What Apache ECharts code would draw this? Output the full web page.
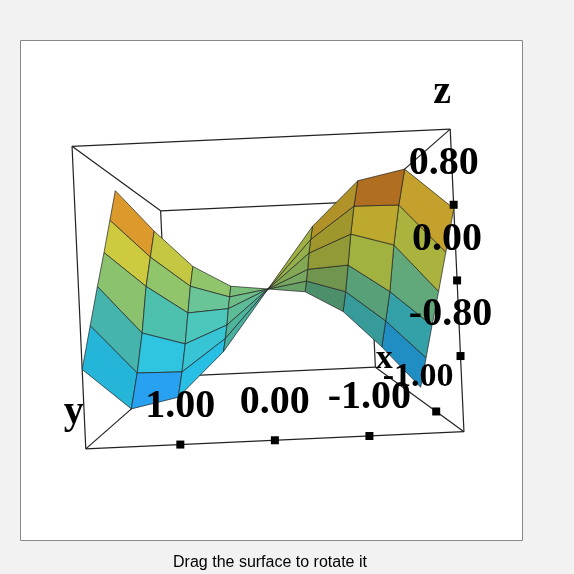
<!DOCTYPE html>
<html>
<head>
<meta charset="utf-8">
<script src="https://cdn.jsdelivr.net/npm/echarts@6/dist/echarts.min.js"></script>
<style>html,body{margin:0;padding:0;background:#f2f2f2;}#main{width:574px;height:574px;}</style>
</head>
<body>
<div id="main"></div>
<script>
// surface grid
var xVals = [-2, -1.5, -1, -0.5, 0, 0.5, 1, 1.5, 2];
var depthVals = [0, 0.27, 0.54, 0.81, 1.08, 1.35];
var zRows = [
  [-0.76, -1.20, -1.10, -0.64, 0, 0.64, 1.10, 1.20, 0.76],
  [-0.32, -0.87, -0.88, -0.53, 0, 0.53, 0.88, 0.87, 0.32],
  [0.12, -0.45, -0.60, -0.40, 0, 0.40, 0.60, 0.45, -0.12],
  [0.54, 0.10, -0.25, -0.22, 0, 0.22, 0.25, -0.10, -0.54],
  [0.98, 0.48, 0.08, -0.08, 0, 0.08, -0.08, -0.48, -0.98],
  [1.42, 0.85, 0.35, 0.06, 0, -0.06, -0.35, -0.85, -1.42]
];
var xTicks = [-1, 0, 1];
var xTickLabels = ['1.00', '0.00', '-1.00'];
var zTicks = [0.8, 0, -0.8];
var zTickLabels = ['0.80', '0.00', '-0.80'];

// camera
var D0 = 4.85, F = 459, CX = 268, CY = 289, ROLL = 2.6 * Math.PI / 180;
function proj(X, ds, Z) {
  var D = D0 + ds;
  var dx = F * X / D, dy = -F * Z / D;
  var c = Math.cos(ROLL), s = Math.sin(ROLL);
  return [CX + dx * c + dy * s, CY - dx * s + dy * c];
}

// colour map keyed on z
var colorStops = [
  [-1.42, [40, 90, 250]], [-0.8, [40, 200, 240]], [-0.2, [90, 200, 170]],
  [0.3, [200, 220, 80]], [0.7, [245, 220, 60]], [1.1, [245, 135, 40]], [1.42, [150, 30, 20]]
];
function colorAt(z, k) {
  z = Math.max(-1.42, Math.min(1.42, z));
  for (var i = 1; i < colorStops.length; i++) {
    if (z <= colorStops[i][0]) {
      var a = colorStops[i - 1], b = colorStops[i];
      var u = (z - a[0]) / (b[0] - a[0]);
      var rgb = a[1].map(function (v, j) { return Math.round((v + (b[1][j] - v) * u) * k); });
      return 'rgb(' + rgb.join(',') + ')';
    }
  }
}

// facets
var facets = [];
for (var j = 0; j < depthVals.length - 1; j++) {
  for (var i = 0; i < xVals.length - 1; i++) {
    var p = [[i, j], [i + 1, j], [i + 1, j + 1], [i, j + 1]].map(function (q) {
      return [xVals[q[0]], depthVals[q[1]], zRows[q[1]][q[0]]];
    });
    var zAvg = (p[0][2] + p[1][2] + p[2][2] + p[3][2]) / 4;
    var a = [p[2][0] - p[0][0], p[2][1] - p[0][1], p[2][2] - p[0][2]];
    var b = [p[3][0] - p[1][0], p[3][1] - p[1][1], p[3][2] - p[1][2]];
    var n = [a[1] * b[2] - a[2] * b[1], a[2] * b[0] - a[0] * b[2], a[0] * b[1] - a[1] * b[0]];
    var nl = Math.hypot(n[0], n[1], n[2]);
    var L = [-0.3, -1, 0.7], ll = Math.hypot(L[0], L[1], L[2]);
    var dot = Math.abs((n[0] * L[0] + n[1] * L[1] + n[2] * L[2]) / nl / ll);
    var dist = p.reduce(function (s, q) { return s + Math.hypot(q[0], D0 + q[1], q[2]); }, 0);
    facets.push({ pts: p, fill: colorAt(zAvg, 0.66 + 0.34 * dot), dist: dist });
  }
}
facets.sort(function (u, v) { return v.dist - u.dist; });

// box edges
var bx = [-2, 2], bd = [0, 4], bz = [-1.6, 1.6];
var edges = [];
[0, 1].forEach(function (a) { [0, 1].forEach(function (b) {
  edges.push([[bx[0], bd[a], bz[b]], [bx[1], bd[a], bz[b]]]);
  edges.push([[bx[a], bd[0], bz[b]], [bx[a], bd[1], bz[b]]]);
  edges.push([[bx[a], bd[b], bz[0]], [bx[a], bd[b], bz[1]]]);
}); });

var ticks = [];
xTicks.forEach(function (x) { ticks.push([x, 0, -1.6]); });
zTicks.forEach(function (z) { ticks.push([2, 0, z]); });
ticks.push([2, 0.8, -1.6]);

var labelFont = 'bold 40px "Liberation Serif", "DejaVu Serif", serif';
var graphics = [
  { type: 'rect', z: -10, shape: { x: 20.5, y: 40.5, width: 502, height: 500 }, style: { fill: '#fff', stroke: '#888', lineWidth: 1 } },
  { type: 'text', x: 270, y: 563, style: { text: 'Drag the surface to rotate it', font: '16px "Liberation Sans", Arial, sans-serif', fill: '#000', align: 'center', verticalAlign: 'middle' } }
];
function addLabel(txt, pt, ox, oy, font) {
  var q = proj(pt[0], pt[1], pt[2]);
  graphics.push({ type: 'text', z: 100, x: q[0] + ox, y: q[1] + oy,
    style: { text: txt, font: font || labelFont, fill: '#000', align: 'center', verticalAlign: 'middle' } });
}
xTicks.forEach(function (x, k) { addLabel(xTickLabels[k], [x, 0, -1.6], 0, -38); });
zTicks.forEach(function (z, k) { addLabel(zTickLabels[k], [2, 0, z], -10, -41); });
addLabel('z', [2, 0, 1.6], -8, -36);
addLabel('y', [-2, 0, -1.6], -12, -36);
addLabel('x', [2, 0.8, -1.6], -52, -52, 'bold 34px "Liberation Serif", serif');
addLabel('-1.00', [2, 0.8, -1.6], -18, -34, 'bold 34px "Liberation Serif", serif');

var chart = echarts.init(document.getElementById('main'));
chart.setOption({
  backgroundColor: '#f2f2f2',
  animation: false,
  graphic: graphics,
  series: [
    {
      type: 'custom', coordinateSystem: 'none', z: 1,
      data: edges.map(function (e, i) { return [i]; }),
      renderItem: function (params, api) {
        var e = edges[api.value(0)];
        var a = proj(e[0][0], e[0][1], e[0][2]), b = proj(e[1][0], e[1][1], e[1][2]);
        return { type: 'line', shape: { x1: a[0], y1: a[1], x2: b[0], y2: b[1] }, style: { stroke: '#222', lineWidth: 1.2 } };
      }
    },
    {
      type: 'custom', coordinateSystem: 'none', z: 2,
      data: facets.map(function (f, i) { return [i]; }),
      renderItem: function (params, api) {
        var f = facets[api.value(0)];
        return { type: 'polygon', shape: { points: f.pts.map(function (q) { return proj(q[0], q[1], q[2]); }) },
          style: { fill: f.fill, stroke: '#222', lineWidth: 0.7 } };
      }
    },
    {
      type: 'custom', coordinateSystem: 'none', z: 3,
      data: ticks.map(function (t, i) { return [i]; }),
      renderItem: function (params, api) {
        var t = ticks[api.value(0)];
        var q = proj(t[0], t[1], t[2]);
        return { type: 'rect', shape: { x: q[0] - 4, y: q[1] - 4, width: 8, height: 8 }, style: { fill: '#000' } };
      }
    }
  ]
});
</script>
</body>
</html>
